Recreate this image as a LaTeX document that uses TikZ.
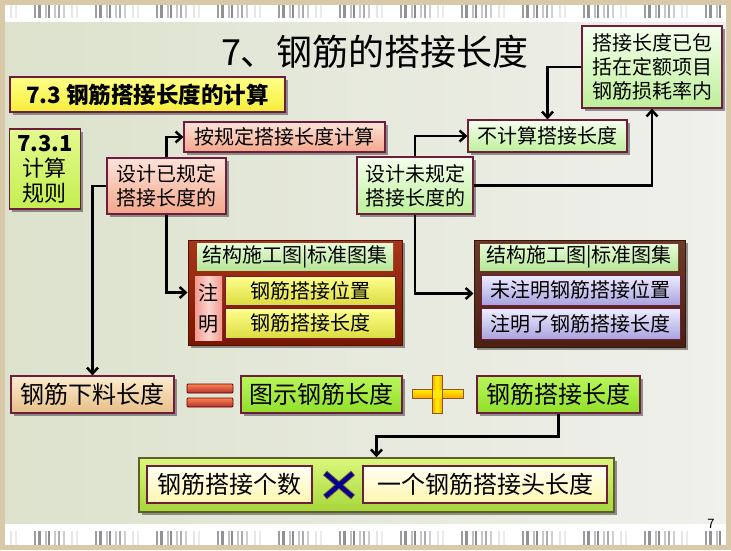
\documentclass[tikz,border=0pt]{standalone}
\usepackage{fontspec}
\setmainfont{Noto Sans CJK SC}
\usetikzlibrary{arrows.meta,shadows,calc}
\definecolor{beige}{HTML}{D9C9A9}
\definecolor{slideL}{HTML}{DCE2CC}
\definecolor{slideR}{HTML}{F0F0EC}
\definecolor{brd}{HTML}{6E1E3C}
\definecolor{salT}{HTML}{FDE3D9}
\definecolor{salB}{HTML}{F3A68A}
\definecolor{lgT}{HTML}{F6FFEE}
\definecolor{lgB}{HTML}{BDF09A}
\definecolor{yelT}{HTML}{FFFF88}
\definecolor{yelB}{HTML}{F5EE3A}
\definecolor{ygT}{HTML}{E4FA8E}
\definecolor{ygB}{HTML}{C4EE50}
\definecolor{hdT}{HTML}{E8FBD8}
\definecolor{hdB}{HTML}{B5E696}
\definecolor{pkD}{HTML}{F29A90}
\definecolor{pkL}{HTML}{FCD4CC}
\definecolor{ylT}{HTML}{FFFF90}
\definecolor{ylB}{HTML}{DCDC40}
\definecolor{lvT}{HTML}{EEEDFF}
\definecolor{lvB}{HTML}{A8A2DE}
\definecolor{whT}{HTML}{FCEDCF}
\definecolor{whB}{HTML}{E6BE86}
\definecolor{grT}{HTML}{B8F65A}
\definecolor{grB}{HTML}{92DE2A}
\definecolor{cpT}{HTML}{DAF87C}
\definecolor{cpB}{HTML}{A6D63A}
\definecolor{crT}{HTML}{FFFFF4}
\definecolor{crB}{HTML}{FFF6B0}
\definecolor{redT}{HTML}{A8361A}
\definecolor{redB}{HTML}{7A1600}
\definecolor{brnT}{HTML}{6E3A2A}
\definecolor{brnB}{HTML}{4A2012}
\newcommand\fsz[2]{\fontsize{#1}{#2}\selectfont}
\begin{document}
\begin{tikzpicture}[x=1pt,y=-1pt,
  shd/.style={drop shadow={shadow xshift=2.5pt,shadow yshift=-2.5pt,fill=black!60,opacity=.7}},
  box/.style={draw=brd,line width=1.2pt,shd,inner sep=2pt,align=center,font=\fsz{20}{24}},
  salbox/.style={box,top color=salT,bottom color=salB},
  lgbox/.style={box,top color=lgT,bottom color=lgB},
  hdbox/.style={draw=none,top color=hdT,bottom color=hdB,inner sep=0pt,font=\fsz{20}{22}},
  ylrow/.style={draw=brd,line width=0.8pt,top color=ylT,bottom color=ylB,inner sep=0pt,font=\fsz{20}{22}},
  lvrow/.style={draw=brd,line width=0.8pt,top color=lvT,bottom color=lvB,inner sep=0pt,font=\fsz{20}{22}},
  grbox/.style={box,top color=grT,bottom color=grB,font=\fsz{24}{26}},
  crbox/.style={draw=brd,line width=1.2pt,top color=crT,bottom color=crB,inner sep=0pt,font=\fsz{24}{26}},
  arr/.style={line width=2.5pt,-{Straight Barb[length=6pt,width=11pt]}}]
\useasboundingbox (0,0) rectangle (731,550);
% background
\fill[beige] (0,0) rectangle (731,550);
\fill[white] (5,5) rectangle (726,545);
\shade[left color=slideL,right color=slideR] (5,22) rectangle (726,523);
% stripes
\foreach \p in {0,61,...,700}{
  \foreach \o/\w/\g in {0/2/18,5/2/14,24/2/70,28/3/78,35/2/45,38/2/82,44/2/40,48/2/60,53/2/35}{
    \pgfmathsetmacro\xx{10+\p+\o}
    \ifdim\xx pt<724pt
      \fill[black!\g!blue!10!gray!\g!white] (\xx,5) rectangle ++(\w,13);
      \fill[black!\g!blue!10!gray!\g!white] (\xx,531) rectangle ++(\w,14);
    \fi
  }
}
% title
\node[font=\fsz{36}{40}] (title) at (375,52) {7、钢筋的搭接长度};
% header boxes
\node[box,top color=yelT,bottom color=yelB,font=\bfseries\fsz{22.5}{26},minimum width=275pt,minimum height=35pt] (sec) at (147.5,94.5) {7.3 钢筋搭接长度的计算};
\node[box,top color=ygT,bottom color=ygB,font=\fsz{22}{25},minimum width=71pt,minimum height=80pt] (rule) at (45,169) {\textbf{7.3.1}\\计算\\规则};
% top right
\node[lgbox,minimum width=140pt,minimum height=82pt] (tr) at (652,67) {搭接长度已包\\括在定额项目\\钢筋损耗率内};
% salmon
\node[salbox,minimum width=201pt,minimum height=30pt] (agd) at (284.5,137) {按规定搭接长度计算};
\node[salbox,minimum width=119pt,minimum height=56pt] (yg) at (166.5,186) {设计已规定\\搭接长度的};
% light green
\node[lgbox,minimum width=159pt,minimum height=32pt] (bj) at (547.5,136) {不计算搭接长度};
\node[lgbox,minimum width=116pt,minimum height=57pt] (wg) at (415,185.5) {设计未规定\\搭接长度的};
% left panel
\node[draw=redB!70!black,line width=1pt,top color=redT,bottom color=redB,shd,minimum width=214pt,minimum height=105pt] (lp) at (295,292.5) {};
\node[hdbox,minimum width=196pt,minimum height=27pt] (lh) at (295,256.5) {结构施工图|标准图集};
\node[draw=none,left color=pkD,right color=pkD,middle color=pkL,inner sep=0pt,align=center,font=\fsz{20}{31},minimum width=27pt,minimum height=64pt] (zm) at (208.5,308) {注\\明};
\node[ylrow,minimum width=170pt,minimum height=29pt] (lr1) at (310,290.5) {钢筋搭接位置};
\node[ylrow,minimum width=170pt,minimum height=30pt] (lr2) at (310,323) {钢筋搭接长度};
% right panel
\node[draw=brnB!70!black,line width=1pt,top color=brnT,bottom color=brnB,shd,minimum width=211pt,minimum height=107pt] (rp) at (579.5,293.5) {};
\node[hdbox,minimum width=198pt,minimum height=26pt] (rh) at (579,257) {结构施工图|标准图集};
\node[lvrow,minimum width=199pt,minimum height=30pt] (rr1) at (580.5,290) {未注明钢筋搭接位置};
\node[lvrow,minimum width=199pt,minimum height=31pt] (rr2) at (580.5,324) {注明了钢筋搭接长度};
% bottom row
\node[box,top color=whT,bottom color=whB,font=\fsz{24}{26},minimum width=163pt,minimum height=37pt] (xl) at (92.5,394.5) {钢筋下料长度};
\node[grbox,minimum width=161pt,minimum height=37pt] (ts) at (321.5,394.5) {图示钢筋长度};
\node[grbox,minimum width=163pt,minimum height=37pt] (dj) at (558.5,394.5) {钢筋搭接长度};
% equals
\foreach \yy in {384,398}{
  \shade[top color=orange!60!red!70,bottom color=red!60!black!80,draw=red!40!black,line width=0.8pt,rounded corners=1pt] (187,\yy) rectangle (233,\yy+9);
}
% plus
\shade[top color=yellow!90!orange,bottom color=orange!70!yellow,draw=brown!70!black,line width=0.8pt] (412,389) rectangle (463,398);
\shade[left color=orange!70!yellow,right color=orange!70!yellow,middle color=yellow!90!orange,draw=brown!70!black,line width=0.8pt] (432,375) rectangle (442,413);
\fill[yellow!90!orange] (432.5,389.5) rectangle (441.5,397.5);
% composite
\node[draw=olive!60!black,line width=1.4pt,top color=cpT,bottom color=cpB,shd,minimum width=475pt,minimum height=54pt] (cp) at (376.5,485) {};
\node[crbox,minimum width=165pt,minimum height=37pt] (gs) at (229.5,484.5) {钢筋搭接个数};
\node[crbox,minimum width=244pt,minimum height=37pt] (yc) at (485,484.5) {一个钢筋搭接头长度};
% times
\draw[line width=6pt,brown!60!black,line cap=butt] (325,473) -- (353,497) (353,473) -- (325,497);
\draw[line width=4pt,blue!60!black,line cap=butt] (325.5,473.5) -- (352.5,496.5) (352.5,473.5) -- (325.5,496.5);
% page number
\node[font=\fsz{13}{15}] (pg) at (711,524) {7};
% connectors
\draw[arr] (yg.west) -| (xl.north);
\draw[arr] (yg.north) |- (agd.west);
\draw[arr] (yg.south) |- (lp.west);
\draw[arr] (wg.north) |- (bj.west);
\draw[arr] (wg.east) -| (tr.south);
\draw[arr] (wg.south) |- (rp.west);
\draw[arr] (tr.west) -| (bj.north);
\draw[arr] (dj.south) -- ++(0,23) -| (cp.north);
\end{tikzpicture}
\end{document}
